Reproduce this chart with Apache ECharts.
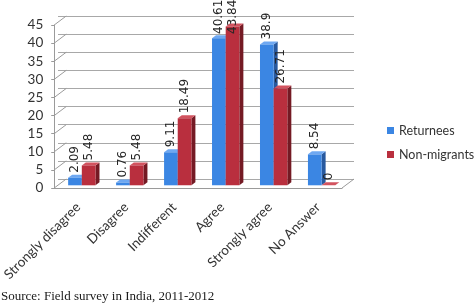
<!DOCTYPE html>
<html>
<head>
<meta charset="utf-8">
<script src="https://cdn.jsdelivr.net/npm/echarts@6/dist/echarts.min.js"></script>
<style>
html, body { margin: 0; padding: 0; background: #fff; }
#chart { width: 475px; height: 305px; }
</style>
</head>
<body>
<div id="chart"></div>
<script>
var categories = ['Strongly disagree', 'Disagree', 'Indifferent', 'Agree', 'Strongly agree', 'No Answer'];
var returnees = [2.09, 0.76, 9.11, 40.61, 38.9, 8.54];
var nonMigrants = [5.48, 5.48, 18.49, 43.84, 26.71, 0];
var yTicks = [0, 5, 10, 15, 20, 25, 30, 35, 40, 45];

// depth of the side wall (front axis -> back wall)
var DX = 12, DY = -9;
var blue = { front: '#3b86e3', top: '#6ea8f2', side: '#28599f' };
var red = { front: '#b92f3e', top: '#d2535f', side: '#741a24' };

function toPairs(arr) {
	return arr.map(function (v, i) { return [i, v]; });
}

// 3D-looking column: front face, right side, top, plus rotated value label
function barItem(slot, col) {
	return function (params, api) {
		var idx = api.value(0), v = api.value(1);
		var band = api.size([1, 0])[0];
		var w = band * 0.285;
		var base = api.coord([idx, 0]);
		var top = api.coord([idx, v]);
		var sx = DX * 0.3, sy = DY * 0.3;
		var x0 = base[0] - w + slot * w + sx;
		var x1 = x0 + w;
		var yb = base[1] + sy, yt = top[1] + sy;
		var dx = 4, dy = -3;
		var ly = Math.max(yt + dy - 2, 34);
		return {
			type: 'group',
			children: [{
				type: 'polygon',
				shape: { points: [[x1, yb], [x1 + dx, yb + dy], [x1 + dx, yt + dy], [x1, yt]] },
				style: { fill: col.side }
			}, {
				type: 'polygon',
				shape: { points: [[x0, yt], [x1, yt], [x1 + dx, yt + dy], [x0 + dx, yt + dy]] },
				style: { fill: col.top }
			}, {
				type: 'rect',
				shape: { x: x0, y: yt, width: w, height: yb - yt },
				style: { fill: col.front }
			}, {
				type: 'text',
				x: x0 + w / 2,
				y: ly,
				rotation: Math.PI / 2,
				style: {
					text: String(v),
					fill: '#262626',
					font: '12px "DejaVu Sans"',
					align: 'left',
					verticalAlign: 'middle'
				}
			}]
		};
	};
}

// diagonal lines on the left side wall and the right end of the floor
function wallItem(params, api) {
	var idx = api.value(0), v = api.value(1);
	var band = api.size([1, 0])[0];
	var p = api.coord([idx, v]);
	var x = idx === 0 ? p[0] - band / 2 : p[0] + band / 2;
	return {
		type: 'line',
		shape: { x1: x, y1: p[1], x2: x + DX, y2: p[1] + DY },
		style: { stroke: '#9a9a9a', lineWidth: 1 }
	};
}

var chart = echarts.init(document.getElementById('chart'));
var option = {
	animation: false,
	textStyle: { fontFamily: 'Lato' },
	title: {
		text: 'Source: Field survey in India, 2011-2012',
		left: 1,
		top: 290,
		padding: 0,
		textStyle: { fontFamily: '"Liberation Serif"', fontWeight: 'normal', fontSize: 13, color: '#1a1a1a' }
	},
	legend: {
		orient: 'vertical',
		left: 382,
		top: 119,
		itemWidth: 7,
		itemHeight: 7,
		itemGap: 11,
		icon: 'rect',
		textStyle: { fontFamily: 'Lato', fontSize: 12.5, color: '#333' },
		data: ['Returnees', 'Non-migrants']
	},
	grid: [
		{ left: 46, right: 133, top: 25, bottom: 117 },
		{ left: 58, right: 121, top: 16, bottom: 126 }
	],
	xAxis: [{
		type: 'category',
		gridIndex: 0,
		data: categories,
		axisLine: { lineStyle: { color: '#9a9a9a' } },
		axisTick: { length: 4, lineStyle: { color: '#9a9a9a' } },
		axisLabel: { rotate: 45, margin: 17, fontSize: 13.5, color: '#333', interval: 0 }
	}, {
		type: 'category',
		gridIndex: 1,
		data: categories,
		show: false
	}],
	yAxis: [{
		type: 'value',
		gridIndex: 0,
		min: 0,
		max: 45,
		interval: 5,
		splitLine: { show: false },
		axisLine: { show: true, lineStyle: { color: '#9a9a9a' } },
		axisTick: { show: true, length: 3, lineStyle: { color: '#9a9a9a' } },
		axisLabel: { fontSize: 13.5, color: '#333', margin: 11 }
	}, {
		type: 'value',
		gridIndex: 1,
		min: 0,
		max: 45,
		interval: 5,
		axisLine: { show: false },
		axisTick: { show: false },
		axisLabel: { show: false },
		splitLine: { lineStyle: { color: '#a8a8a8' } }
	}],
	series: [{
		type: 'custom',
		name: 'wall',
		xAxisIndex: 0,
		yAxisIndex: 0,
		clip: false,
		silent: true,
		renderItem: wallItem,
		encode: { x: 0, y: 1 },
		data: yTicks.map(function (v) { return [0, v]; }).concat([[categories.length - 1, 0]]),
		z: 1
	}, {
		type: 'custom',
		name: 'Returnees',
		xAxisIndex: 0,
		yAxisIndex: 0,
		clip: false,
		itemStyle: { color: blue.front },
		renderItem: barItem(0, blue),
		encode: { x: 0, y: 1 },
		data: toPairs(returnees),
		z: 5
	}, {
		type: 'custom',
		name: 'Non-migrants',
		xAxisIndex: 0,
		yAxisIndex: 0,
		clip: false,
		itemStyle: { color: red.front },
		renderItem: barItem(1, red),
		encode: { x: 0, y: 1 },
		data: toPairs(nonMigrants),
		z: 5
	}]
};
chart.setOption(option);
</script>
</body>
</html>
